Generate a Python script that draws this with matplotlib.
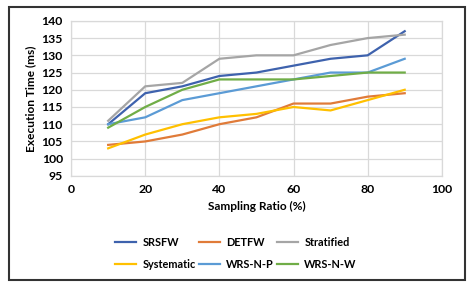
import matplotlib.pyplot as plt
from matplotlib.patches import Rectangle

ratio = [10, 20, 30, 40, 50, 60, 70, 80, 90]
srsfw = [110, 119, 121, 124, 125, 127, 129, 130, 137]
detfw = [104, 105, 107, 110, 112, 116, 116, 118, 119]
stratified = [111, 121, 122, 129, 130, 130, 133, 135, 136]
systematic = [103, 107, 110, 112, 113, 115, 114, 117, 120]
wrs_n_p = [110, 112, 117, 119, 121, 123, 125, 125, 129]
wrs_n_w = [109, 115, 120, 123, 123, 123, 124, 125, 125]

series = [
    ("SRSFW", srsfw, "#3E62AD"),
    ("DETFW", detfw, "#E07B39"),
    ("Stratified", stratified, "#A5A5A5"),
    ("Systematic", systematic, "#FFC000"),
    ("WRS-N-P", wrs_n_p, "#5B9BD5"),
    ("WRS-N-W", wrs_n_w, "#70AD47"),
]

plt.rcParams['font.family'] = ['Lato', 'DejaVu Sans']
plt.rcParams['font.weight'] = 'bold'

fig = plt.figure(figsize=(4.74, 2.86), dpi=100)
ax = fig.add_axes([0.150, 0.385, 0.782, 0.542])

handles = {}
for name, vals, col in series:
    line, = ax.plot(ratio, vals, color=col, lw=1.6, label=name)
    handles[name] = line

ax.set_xlim(0, 100)
ax.set_ylim(95, 140)
ax.set_xticks(range(0, 101, 20))
ax.set_yticks(range(95, 141, 5))
ax.grid(True, color="#D9D9D9", lw=0.9)
ax.set_axisbelow(True)
for s in ax.spines.values():
    s.set_color("#D9D9D9")
    s.set_linewidth(0.9)
ax.tick_params(length=0, labelsize=8.8, pad=6)
for lab in ax.get_xticklabels() + ax.get_yticklabels():
    lab.set_fontweight('bold')
ax.set_xlabel("Sampling Ratio (%)", fontsize=8.6, fontweight='bold', labelpad=4)
ax.set_ylabel("Execution Time (ms)", fontsize=8.6, fontweight='bold', labelpad=4)

order = ["SRSFW", "Systematic", "DETFW", "WRS-N-P", "Stratified", "WRS-N-W"]
fig.legend([handles[n] for n in order], order, loc="center", ncol=3,
           bbox_to_anchor=(0.498, 0.115), frameon=False,
           handlelength=1.9, handletextpad=0.6, columnspacing=0.3,
           labelspacing=1.0, prop={'weight': 'bold', 'size': 7.8})

fig.patches.append(Rectangle((0.019, 0.02), 0.962, 0.955, transform=fig.transFigure,
                             fill=False, edgecolor="#333333", lw=1.5))

fig.savefig("out.png", dpi=100)
